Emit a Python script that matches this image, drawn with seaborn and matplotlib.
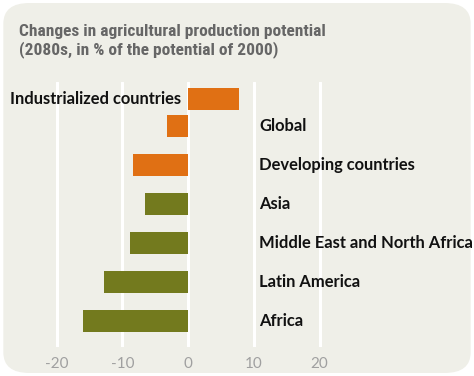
import numpy as np
import pandas as pd
import matplotlib
import matplotlib.pyplot as plt
import seaborn as sns
from matplotlib.patches import FancyBboxPatch

regions = ['Industrialized countries', 'Global', 'Developing countries', 'Asia',
           'Middle East and North Africa', 'Latin America', 'Africa']
change = [7.7, -3.2, -8.4, -6.5, -8.8, -12.8, -16.0]
group = ['aggregate', 'aggregate', 'aggregate', 'region', 'region', 'region', 'region']
ticks = [-20, -10, 0, 10, 20]
title = 'Changes in agricultural production potential\n(2080s, in % of the potential of 2000)'

# row layout: the first bar sits a bit closer to the second one
ypos = [0.31, 1, 2, 3, 4, 5, 6]

sns.set_style('white')
plt.rcParams['font.family'] = ['Lato', 'DejaVu Sans']

df = pd.DataFrame({'region': regions, 'change': change, 'group': group, 'ypos': ypos})

fig = plt.figure(figsize=(4.74, 3.76), dpi=100)
fig.patch.set_facecolor('white')
bg = FancyBboxPatch((0.007, 0.008), 0.986, 0.984, boxstyle='round,pad=0,rounding_size=0.055',
                    transform=fig.transFigure, facecolor='#efefe8', edgecolor='none', zorder=-5)
fig.patches.append(bg)

ax = fig.add_axes([0, 0.0771, 1, 0.7048])
ax.set_facecolor('none')
ax.set_zorder(2)

for t in ticks:
    ax.axvline(t, color='white', lw=2.2, zorder=0)

spacing = np.diff(sorted(ypos)).min()
sns.barplot(data=df, x='change', y='ypos', hue='group', orient='h', native_scale=True,
            palette={'aggregate': '#e07014', 'region': '#737a1e'}, width=0.565 / spacing,
            legend=False, ax=ax, zorder=2, linewidth=0, saturation=1)

for r, v, y in zip(regions, change, ypos):
    if v > 0:
        ax.text(-1.0, y, r, ha='right', va='center', fontsize=11.9, fontweight='bold', color='#111111')
    else:
        ax.text(10.8, y, r, ha='left', va='center', fontsize=11.9, fontweight='bold', color='#111111')

ax.set_xlim(-28.6, 43.5)
ax.set_ylim(6.67, -0.13)
ax.set_xticks(ticks)
ax.set_xticklabels([str(t) for t in ticks], color='#a0a0a0', fontsize=11)
ax.tick_params(axis='x', length=0, pad=7)
ax.set_yticks([])
ax.set_xlabel('')
ax.set_ylabel('')
for s in ax.spines.values():
    s.set_visible(False)

fig.text(0.04, 0.935, title, ha='left', va='top', fontsize=12.5, fontweight='bold',
         color='#666666', family=['Roboto Condensed', 'DejaVu Sans'], linespacing=1.1)

fig.savefig('out.png', dpi=100, facecolor='white')
